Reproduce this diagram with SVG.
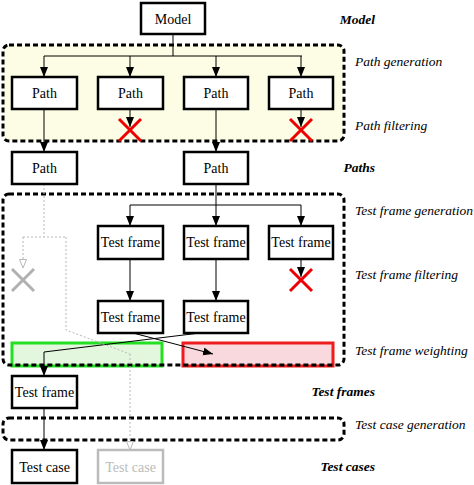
<svg xmlns="http://www.w3.org/2000/svg" width="474" height="485" viewBox="0 0 474 485" font-family="Liberation Serif, Times New Roman, serif">
<style>
.box{fill:#fff;stroke:#000;stroke-width:2.5}
.gbox{fill:#fff;stroke:#bbb;stroke-width:2.5}
.reg{fill:none;stroke:#000;stroke-width:3;stroke-dasharray:5 3}
.c{fill:none;stroke:#000;stroke-width:1;marker-end:url(#ah)}
.cn{fill:none;stroke:#000;stroke-width:1}
.g{fill:none;stroke:#b8b8b8;stroke-width:1;stroke-dasharray:2 2}
.ga{fill:none;stroke:#b8b8b8;stroke-width:1;stroke-dasharray:2 2;marker-end:url(#ahg)}
.rx{stroke:#ee0000;stroke-width:3}
.gx{stroke:#b0b0b0;stroke-width:3}
</style>
<defs>
<marker id="ah" markerUnits="userSpaceOnUse" markerWidth="12" markerHeight="10" refX="10" refY="4" orient="auto">
<path d="M0,0 L10,4 L0,8 Z" fill="#000"/>
</marker>
<marker id="ahg" markerUnits="userSpaceOnUse" markerWidth="12" markerHeight="10" refX="9" refY="4" orient="auto">
<path d="M0.5,0.5 L9,4 L0.5,7.5 Z" fill="#fff" stroke="#b8b8b8" stroke-width="1"/>
</marker>
</defs>
<rect width="474" height="485" fill="#fff"/>

<g id="region-path">
<rect x="3" y="45" width="341" height="96" rx="6" fill="#fdfde6"/>
</g>

<g id="weight-good">
<rect x="12" y="343" width="150" height="23" fill="#e3f7df" stroke="#22e022" stroke-width="3"/>
</g>
<g id="weight-bad">
<rect x="183" y="343" width="150" height="23" fill="#f9d9de" stroke="#ee1c1c" stroke-width="3"/>
</g>

<g id="region-borders">
<rect class="reg" x="3" y="45" width="341" height="96" rx="6"/>
<rect class="reg" x="3" y="194" width="341" height="171" rx="6"/>
<rect class="reg" x="3" y="418" width="341" height="22" rx="6"/>
</g>

<g id="connectors">
<path class="cn" d="M173 34 V56 M44 56 H302"/>
<path class="c" d="M44 56 V77"/>
<path class="c" d="M130 56 V77"/>
<path class="c" d="M216 56 V77"/>
<path class="c" d="M301 56 V77"/>
<path class="c" d="M130 109 V127"/>
<path class="c" d="M301 109 V127"/>
<path class="c" d="M44 109 V152"/>
<path class="c" d="M216 109 V152"/>
<path class="cn" d="M216 184 V205 M130 205 H301"/>
<path class="c" d="M130 205 V226"/>
<path class="c" d="M216 205 V226"/>
<path class="c" d="M301 205 V226"/>
<path class="c" d="M301 259 V277"/>
<path class="c" d="M130 259 V301"/>
<path class="c" d="M216 259 V301"/>
<path class="c" d="M133 333 L213 354"/>
<path class="c" d="M200 333 L44 352 V376"/>
<path class="c" d="M44 408 V450"/>
<path class="g" d="M44 184 V237 M23 237 H66 M66 237 V330 L130 354"/>
<path class="ga" d="M23 237 V268"/>
<path class="ga" d="M130 354 V450"/>
</g>

<g id="cross-path2"><path class="rx" d="M119 119 L141 141 M141 119 L119 141"/></g>
<g id="cross-path4"><path class="rx" d="M290 119 L312 141 M312 119 L290 141"/></g>
<g id="cross-tf3"><path class="rx" d="M290 269 L312 291 M312 269 L290 291"/></g>
<g id="cross-gray"><path class="gx" d="M12 269 L34 291 M34 269 L12 291"/></g>

<g font-family="Liberation Serif, Times New Roman, serif" font-size="14" text-anchor="middle" fill="#000">
<g id="model"><rect class="box" x="141" y="3" width="64" height="31"/><text x="173" y="24">Model</text></g>

<g id="path1"><rect class="box" x="12" y="77" width="65" height="32"/><text x="44.5" y="98">Path</text></g>
<g id="path2"><rect class="box" x="98" y="77" width="65" height="32"/><text x="130.5" y="98">Path</text></g>
<g id="path3"><rect class="box" x="184" y="77" width="64" height="32"/><text x="216" y="98">Path</text></g>
<g id="path4"><rect class="box" x="269" y="77" width="64" height="32"/><text x="301" y="98">Path</text></g>

<g id="paths1"><rect class="box" x="12" y="152" width="65" height="32"/><text x="44.5" y="173">Path</text></g>
<g id="paths2"><rect class="box" x="184" y="152" width="64" height="32"/><text x="216" y="173">Path</text></g>

<g id="tf1"><rect class="box" x="98" y="226" width="65" height="33"/><text x="130.5" y="247">Test frame</text></g>
<g id="tf2"><rect class="box" x="184" y="226" width="64" height="33"/><text x="216" y="247">Test frame</text></g>
<g id="tf3"><rect class="box" x="269" y="226" width="64" height="33"/><text x="301" y="247">Test frame</text></g>

<g id="tf4"><rect class="box" x="98" y="301" width="65" height="32"/><text x="130.5" y="322">Test frame</text></g>
<g id="tf5"><rect class="box" x="184" y="301" width="64" height="32"/><text x="216" y="322">Test frame</text></g>

<g id="tf-out"><rect class="box" x="12" y="376" width="65" height="32"/><text x="44.5" y="397">Test frame</text></g>

<g id="tc1"><rect class="box" x="12" y="450" width="65" height="33"/><text x="44.5" y="472">Test case</text></g>
<g id="tc2"><rect class="gbox" x="98" y="450" width="65" height="33"/><text x="130.5" y="472" fill="#bbb">Test case</text></g>
</g>

<g id="labels" font-family="Liberation Serif, Times New Roman, serif" font-size="13.5" font-style="italic" fill="#000">
<g font-weight="bold" text-anchor="end">
<text x="375" y="24">Model</text>
<text x="375" y="172">Paths</text>
<text x="375" y="396">Test frames</text>
<text x="375" y="471">Test cases</text>
</g>
<text x="355" y="66">Path generation</text>
<text x="355" y="130">Path filtering</text>
<text x="355" y="215">Test frame generation</text>
<text x="355" y="279">Test frame filtering</text>
<text x="355" y="355">Test frame weighting</text>
<text x="355" y="429">Test case generation</text>
</g>
</svg>
